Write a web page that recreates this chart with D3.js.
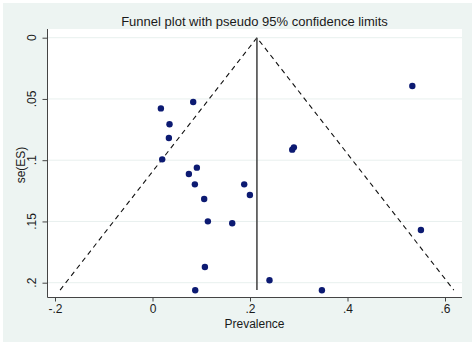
<!DOCTYPE html>
<html><head><meta charset="utf-8">
<script src="https://cdn.jsdelivr.net/npm/d3@7"></script>
<style>body{margin:0;background:#fff}svg{display:block}text{font-family:"Liberation Sans",Arial,sans-serif;fill:#1a1a1a}</style>
</head><body><svg id="c" width="474" height="345"></svg>
<script>
const prevalence = [0.0172,0.0835,0.533,0.0349,0.0336,0.0199,0.2866,0.290,0.0746,0.0910,0.0869,0.1881,0.1998,0.106,0.1136,0.1635,0.5506,0.1075,0.0876,0.240,0.3475];
const seES = [0.0577,0.0525,0.0394,0.0707,0.0819,0.0993,0.0914,0.0895,0.1113,0.1061,0.1197,0.1197,0.1284,0.1317,0.1499,0.1515,0.157,0.1872,0.2062,0.198,0.2062];
const pooled = 0.2142;
const seMax = 0.206;
const xTicks = [-0.2,0,0.2,0.4,0.6];
const xTickLabels = ["-.2","0",".2",".4",".6"];
const yTicks = [0,0.05,0.1,0.15,0.2];
const yTickLabels = ["0",".05",".1",".15",".2"];

const svg = d3.select("#c");
const x = d3.scaleLinear().domain([-0.2,0.6]).range([55,445]);
const y = d3.scaleLinear().domain([0,0.2]).range([37.7,282.7]);
const L=47.5, R=462, T=29, B=297.5;

svg.append("rect").attr("x",3).attr("y",3).attr("width",469).attr("height",339).attr("fill","#edf4f2");
svg.append("rect").attr("x",L).attr("y",T).attr("width",R-L).attr("height",B-T).attr("fill","#fff");

// gridlines
svg.append("g").selectAll("line").data(yTicks).join("line")
  .attr("x1",L).attr("x2",R).attr("y1",d=>y(d)).attr("y2",d=>y(d))
  .attr("stroke","#e8f0ee").attr("stroke-width",1);

// funnel
const z = 1.96;
const funnel = [[pooled - z*seMax, seMax],[pooled,0],[pooled + z*seMax, seMax]];
svg.append("path").attr("d", d3.line().x(d=>x(d[0])).y(d=>y(d[1]))(funnel))
  .attr("fill","none").attr("stroke","#111").attr("stroke-width",1.1).attr("stroke-dasharray","5,4");
svg.append("line").attr("x1",x(pooled)).attr("x2",x(pooled)).attr("y1",y(0)).attr("y2",y(seMax))
  .attr("stroke","#4a4a4a").attr("stroke-width",1.6);

// points
svg.append("g").selectAll("circle").data(prevalence.map((p,i)=>[p,seES[i]])).join("circle")
  .attr("cx",d=>x(d[0])).attr("cy",d=>y(d[1])).attr("r",3.2).attr("fill","#0c1a72");

// axes
const yAxis = d3.axisLeft(y).tickValues(yTicks).tickSize(5).tickFormat((d,i)=>yTickLabels[i]);
const gy = svg.append("g").attr("transform",`translate(${L},0)`).call(yAxis);
gy.select(".domain").attr("d",`M0,${T}V${B}`).attr("stroke","#444");
gy.selectAll(".tick line").attr("stroke","#444");
gy.selectAll(".tick text").remove();
svg.append("g").selectAll("text").data(yTicks).join("text")
  .attr("transform",d=>`translate(31.5,${y(d)}) rotate(-90)`)
  .attr("text-anchor","middle").attr("dy","0.36em").attr("font-size",12)
  .text((d,i)=>yTickLabels[i]);

const xAxis = d3.axisBottom(x).tickValues(xTicks).tickSize(4).tickFormat((d,i)=>xTickLabels[i]);
const gx = svg.append("g").attr("transform",`translate(0,${B})`).call(xAxis);
gx.select(".domain").attr("d",`M${L},0H${R}`).attr("stroke","#444");
gx.selectAll(".tick line").attr("stroke","#444");
gx.selectAll(".tick text").attr("font-size",12).attr("font-family","Liberation Sans, Arial, sans-serif").attr("fill","#1a1a1a").attr("y",7).attr("dy","0.71em");

// titles
svg.append("text").attr("x",254.5).attr("y",25.5).attr("text-anchor","middle").attr("font-size",13).text("Funnel plot with pseudo 95% confidence limits");
svg.append("text").attr("x",254.5).attr("y",327.5).attr("text-anchor","middle").attr("font-size",12).text("Prevalence");
svg.append("text").attr("transform","translate(24.5,165) rotate(-90)").attr("text-anchor","middle").attr("font-size",12).text("se(ES)");
</script></body></html>
